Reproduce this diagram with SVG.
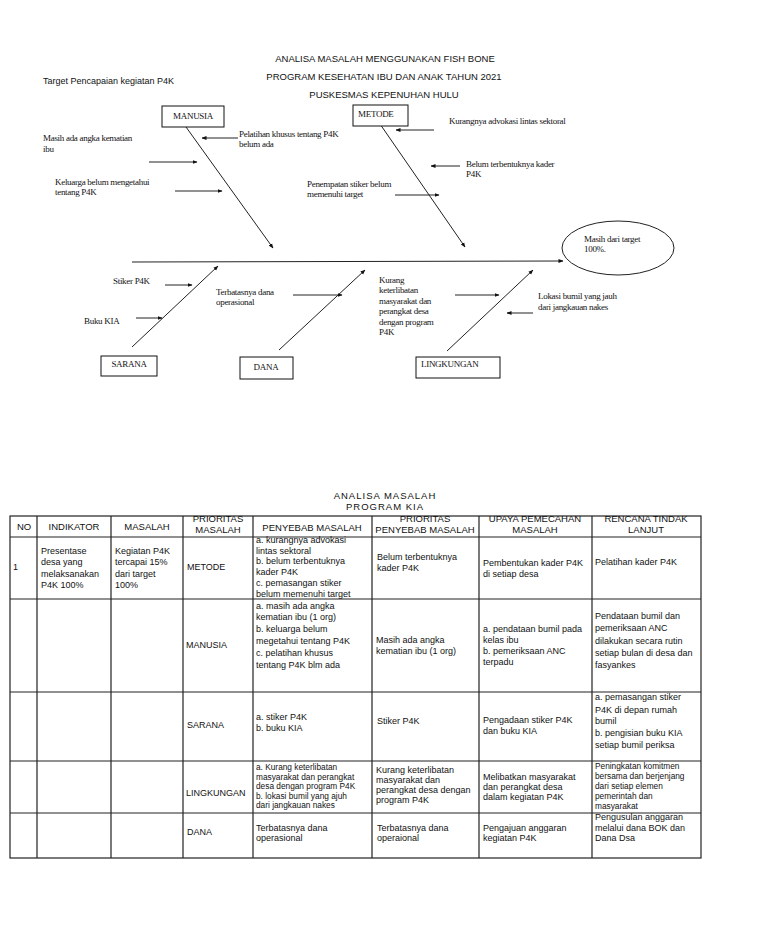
<svg xmlns="http://www.w3.org/2000/svg" width="768" height="932" viewBox="0 0 768 932">
<defs>
<marker id="ah" viewBox="0 0 10 10" refX="9" refY="5" markerWidth="5" markerHeight="5" orient="auto-start-reverse" markerUnits="userSpaceOnUse">
<path d="M0,1 L10,5 L0,9 z" fill="#111"/>
</marker>
<style>
.t{font-family:"Liberation Sans",Arial,sans-serif;font-size:9px;fill:#111}
.tt{font-family:"Liberation Sans",Arial,sans-serif;font-size:8.3px;fill:#111}
.h{font-family:"Liberation Sans",Arial,sans-serif;font-size:9.5px;fill:#111;text-anchor:middle}
.s{font-family:"Liberation Serif","Times New Roman",serif;font-size:9px;fill:#111;letter-spacing:-0.3px}
.box{fill:#fff;stroke:#111;stroke-width:1}
.ar{stroke:#222;stroke-width:1;fill:none;marker-end:url(#ah)}
.g{stroke:#222;stroke-width:1.2;fill:none}
</style>
</defs>
<rect width="768" height="932" fill="#fff"/>

<g id="title">
<text class="h" x="385" y="62">ANALISA MASALAH MENGGUNAKAN FISH BONE</text>
<text class="h" x="384" y="80">PROGRAM KESEHATAN IBU DAN ANAK TAHUN 2021</text>
<text class="h" x="384" y="98">PUSKESMAS KEPENUHAN HULU</text>
<text class="t" x="43" y="84" font-size="9.5">Target Pencapaian kegiatan P4K</text>
</g>

<g id="connectors">
<line class="ar" x1="132" y1="262" x2="563" y2="261"/>
<line class="ar" x1="186" y1="127" x2="273" y2="248"/>
<line class="ar" x1="380" y1="124" x2="465" y2="247"/>
<line class="ar" x1="132" y1="347" x2="218" y2="266"/>
<line class="ar" x1="279" y1="350" x2="365" y2="270"/>
<line class="ar" x1="447" y1="351" x2="533" y2="270"/>
<line class="ar" x1="238" y1="138" x2="202" y2="138"/>
<line class="ar" x1="149" y1="162" x2="197" y2="162"/>
<line class="ar" x1="175" y1="191" x2="222" y2="191"/>
<line class="ar" x1="434" y1="130" x2="396" y2="130"/>
<line class="ar" x1="460" y1="166" x2="431" y2="166"/>
<line class="ar" x1="395" y1="195" x2="439" y2="195"/>
<line class="ar" x1="165" y1="285" x2="192" y2="285"/>
<line class="ar" x1="136" y1="318" x2="162" y2="318"/>
<line class="ar" x1="293" y1="295" x2="342" y2="295"/>
<line class="ar" x1="455" y1="295" x2="499" y2="295"/>
<line class="ar" x1="533" y1="313" x2="507" y2="313"/>
</g>

<g id="manusia">
<rect class="box" x="162" y="106" width="62" height="21"/>
<text class="s" x="193" y="119" text-anchor="middle">MANUSIA</text>
</g>
<g id="metode">
<rect class="box" x="353" y="105" width="55" height="21"/>
<text class="s" x="358" y="117">METODE</text>
</g>
<g id="sarana">
<rect class="box" x="101" y="356" width="56" height="20"/>
<text class="s" x="129" y="367" text-anchor="middle">SARANA</text>
</g>
<g id="dana">
<rect class="box" x="240" y="357" width="53" height="22"/>
<text class="s" x="266" y="370" text-anchor="middle">DANA</text>
</g>
<g id="lingkungan">
<rect class="box" x="416" y="357" width="84" height="21"/>
<text class="s" x="421" y="367">LINGKUNGAN</text>
</g>
<g id="target">
<ellipse cx="618" cy="248" rx="56" ry="27" fill="#fff" stroke="#222"/>
<text class="s" x="584" y="242">Masih  dari target</text>
<text class="s" x="584" y="252">100%.</text>
</g>

<g id="labels">
<text class="s" x="239" y="137">Pelatihan khusus tentang P4K</text>
<text class="s" x="239" y="147">belum ada</text>
<text class="s" x="43" y="141">Masih ada angka kematian</text>
<text class="s" x="43" y="152">ibu</text>
<text class="s" x="55" y="185">Keluarga belum mengetahui</text>
<text class="s" x="55" y="195">tentang P4K</text>
<text class="s" x="449" y="124">Kurangnya advokasi lintas sektoral</text>
<text class="s" x="466" y="167">Belum terbentuknya kader</text>
<text class="s" x="466" y="177">P4K</text>
<text class="s" x="307" y="187">Penempatan stiker belum</text>
<text class="s" x="307" y="197">memenuhi target</text>
<text class="s" x="113" y="284">Stiker P4K</text>
<text class="s" x="84" y="324">Buku KIA</text>
<text class="s" x="216" y="295">Terbatasnya dana</text>
<text class="s" x="216" y="305">operasional</text>
<text class="s" x="379" y="283">Kurang</text>
<text class="s" x="379" y="293">keterlibatan</text>
<text class="s" x="379" y="304">masyarakat dan</text>
<text class="s" x="379" y="314">perangkat desa</text>
<text class="s" x="379" y="325">dengan program</text>
<text class="s" x="379" y="335">P4K</text>
<text class="s" x="538" y="299">Lokasi bumil yang jauh</text>
<text class="s" x="538" y="310">dari jangkauan nakes</text>
</g>

<g id="table">
<text class="h" x="385" y="499" font-size="9" letter-spacing="1">ANALISA MASALAH</text>
<text class="h" x="385" y="510" font-size="9" letter-spacing="1">PROGRAM KIA</text>
<rect x="10" y="516" width="691" height="342" fill="none" stroke="#222" stroke-width="1.2"/>
<path class="g" d="M37,516V858M111,516V858M183,516V858M253,516V858M372,516V858M479,516V858M592,516V858M10,537H701M10,599H701M10,692H701M10,761H701M10,813H701"/>

<text class="h" x="24" y="530">NO</text>
<text class="h" x="74" y="530">INDIKATOR</text>
<text class="h" x="147" y="530">MASALAH</text>
<text class="h" x="218" y="522">PRIORITAS</text>
<text class="h" x="218" y="533">MASALAH</text>
<text class="h" x="312" y="531">PENYEBAB MASALAH</text>
<text class="h" x="425" y="522">PRIORITAS</text>
<text class="h" x="425" y="533">PENYEBAB MASALAH</text>
<text class="h" x="535" y="522">UPAYA PEMECAHAN</text>
<text class="h" x="535" y="533">MASALAH</text>
<text class="h" x="646" y="522">RENCANA TINDAK</text>
<text class="h" x="646" y="533">LANJUT</text>

<text class="t" x="13" y="570">1</text>
<text class="t" x="41" y="554">Presentase</text>
<text class="t" x="41" y="565">desa yang</text>
<text class="t" x="41" y="577">melaksanakan</text>
<text class="t" x="41" y="588">P4K 100%</text>
<text class="t" x="115" y="554">Kegiatan P4K</text>
<text class="t" x="115" y="565">tercapai 15%</text>
<text class="t" x="115" y="577">dari target</text>
<text class="t" x="115" y="588">100%</text>
<text class="t" x="187" y="570">METODE</text>
<text class="t" x="256" y="543">a. kurangnya advokasi</text>
<text class="t" x="256" y="553.5">lintas sektoral</text>
<text class="t" x="256" y="564">b. belum terbentuknya</text>
<text class="t" x="256" y="574.5">kader P4K</text>
<text class="t" x="256" y="586">c. pemasangan stiker</text>
<text class="t" x="256" y="596.5">belum memenuhi target</text>
<text class="t" x="377" y="560">Belum terbentuknya</text>
<text class="t" x="377" y="571">kader P4K</text>
<text class="t" x="483" y="566">Pembentukan kader P4K</text>
<text class="t" x="483" y="577">di setiap desa</text>
<text class="t" x="595" y="565">Pelatihan kader P4K</text>

<text class="t" x="186" y="648">MANUSIA</text>
<text class="t" x="256" y="609">a. masih ada angka</text>
<text class="t" x="256" y="620">kematian ibu (1 org)</text>
<text class="t" x="256" y="631.5">b. keluarga belum</text>
<text class="t" x="256" y="644">megetahui tentang P4K</text>
<text class="t" x="256" y="656">c. pelatihan khusus</text>
<text class="t" x="256" y="668">tentang P4K blm ada</text>
<text class="t" x="376" y="643">Masih ada angka</text>
<text class="t" x="376" y="654">kematian ibu (1 org)</text>
<text class="t" x="483" y="632">a. pendataan bumil pada</text>
<text class="t" x="483" y="642.5">kelas ibu</text>
<text class="t" x="483" y="654">b. pemeriksaan ANC</text>
<text class="t" x="483" y="664.5">terpadu</text>
<text class="t" x="595" y="619">Pendataan bumil dan</text>
<text class="t" x="595" y="631">pemeriksaan ANC</text>
<text class="t" x="595" y="644">dilakukan secara rutin</text>
<text class="t" x="595" y="656">setiap bulan di desa dan</text>
<text class="t" x="595" y="668">fasyankes</text>

<text class="t" x="187" y="728">SARANA</text>
<text class="t" x="256" y="720">a. stiker P4K</text>
<text class="t" x="256" y="730.5">b. buku KIA</text>
<text class="t" x="377" y="724">Stiker P4K</text>
<text class="t" x="483" y="723">Pengadaan stiker P4K</text>
<text class="t" x="483" y="733.5">dan buku KIA</text>
<text class="t" x="595" y="700">a. pemasangan stiker</text>
<text class="t" x="595" y="713">P4K di depan rumah</text>
<text class="t" x="595" y="724">bumil</text>
<text class="t" x="595" y="735.5">b. pengisian buku KIA</text>
<text class="t" x="595" y="748">setiap bumil periksa</text>

<text class="t" x="186" y="796">LINGKUNGAN</text>
<text class="tt" x="256" y="770">a. Kurang keterlibatan</text>
<text class="tt" x="256" y="779.5">masyarakat dan perangkat</text>
<text class="tt" x="256" y="789">desa dengan program P4K</text>
<text class="tt" x="256" y="798.5">b. lokasi bumil yang ajuh</text>
<text class="tt" x="256" y="808">dari jangkauan nakes</text>
<text class="t" x="376" y="773">Kurang keterlibatan</text>
<text class="t" x="376" y="783">masyarakat dan</text>
<text class="t" x="376" y="793">perangkat desa dengan</text>
<text class="t" x="376" y="803">program P4K</text>
<text class="t" x="483" y="780">Melibatkan masyarakat</text>
<text class="t" x="483" y="790">dan perangkat desa</text>
<text class="t" x="483" y="800">dalam kegiatan P4K</text>
<text class="tt" x="595" y="768.5">Peningkatan komitmen</text>
<text class="tt" x="595" y="778.5">bersama dan berjenjang</text>
<text class="tt" x="595" y="788.5">dari setiap elemen</text>
<text class="tt" x="595" y="798.5">pemerintah dan</text>
<text class="tt" x="595" y="808.5">masyarakat</text>

<text class="t" x="187" y="835">DANA</text>
<text class="t" x="256" y="831">Terbatasnya dana</text>
<text class="t" x="256" y="841">operasional</text>
<text class="t" x="377" y="831">Terbatasnya dana</text>
<text class="t" x="377" y="841">operaional</text>
<text class="t" x="483" y="831">Pengajuan anggaran</text>
<text class="t" x="483" y="841">kegiatan P4K</text>
<text class="t" x="595" y="820">Pengusulan anggaran</text>
<text class="t" x="595" y="830.5">melalui dana BOK dan</text>
<text class="t" x="595" y="841">Dana Dsa</text>
</g>
</svg>
